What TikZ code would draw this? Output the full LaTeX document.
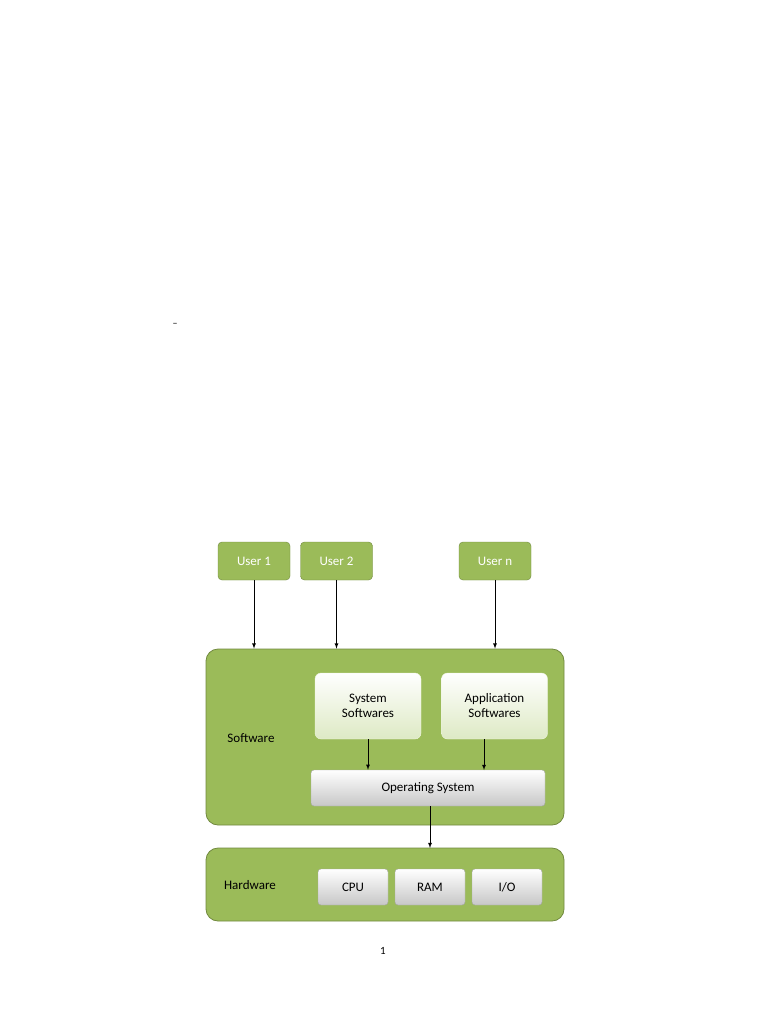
\documentclass[tikz,border=0pt]{standalone}
\usepackage{fontspec}
\setmainfont{Carlito}
\usetikzlibrary{positioning}
\definecolor{leaf}{HTML}{9BBB59}
\definecolor{leafdark}{HTML}{71893F}
\definecolor{leaflight}{HTML}{EEF5DF}
\begin{document}
\begin{tikzpicture}[x=1pt,y=-1pt]
 		\tikzstyle{user}=[rectangle, rounded corners=4pt, fill=leaf, draw=leafdark, text=white, minimum width=72pt, minimum height=38pt, font=\fontsize{13}{15}\selectfont]
 		\tikzstyle{layer}=[rectangle, rounded corners=12pt, fill=leaf, draw=leafdark, thick, minimum width=358pt]
 		\tikzstyle{soft}=[rectangle, rounded corners=6pt, top color=white, bottom color=leaflight!80!leaf, draw=leaflight, minimum width=106pt, minimum height=66pt, align=center, font=\fontsize{13}{15}\selectfont]
 		\tikzstyle{part}=[rectangle, rounded corners=3pt, top color=white, bottom color=black!22, draw=black!35, minimum height=36pt, font=\fontsize{13}{15}\selectfont]
 		\tikzstyle{connect}=[-latex, thick]
 		\useasboundingbox (0,0) rectangle (768,1024);
 		\fill[white] (0,0) rectangle (768,1024);
 		\node[user] (u1) at (254,561) {User 1};
 		\node[user] (u2) at (336.5,561) {User 2};
 		\node[user] (un) at (495,561) {User n};
 		\node[layer, minimum height=176pt] (sw) at (385,737) {};
 		\node[font=\fontsize{13}{15}\selectfont] (swl) at (251,738) {Software};
 		\node[soft] (sys) at (368,706) {System\\Softwares};
 		\node[soft] (app) at (494.5,706) {Application\\Softwares};
 		\node[part, minimum width=234pt] (os) at (428,788) {Operating System};
 		\node[layer, minimum height=73pt] (hw) at (385,884.5) {};
 		\node[font=\fontsize{13}{15}\selectfont] (hwl) at (250,885) {Hardware};
 		\node[part, minimum width=70pt] (cpu) at (353,887) {CPU};
 		\node[part, minimum width=70pt] (ram) at (430,887) {RAM};
 		\node[part, minimum width=70pt] (io) at (507,887) {I/O};
 		\node (dash) at (175,325) {–};
 		\node[font=\fontsize{11}{13}\selectfont] (page) at (383,951) {1};
 		\draw[connect] (u1.south) -- (u1.south |- sw.north);
 		\draw[connect] (u2.south) -- (u2.south |- sw.north);
 		\draw[connect] (un.south) -- (un.south |- sw.north);
 		\draw[connect] (sys.south) -- (sys.south |- os.north);
 		\draw[connect] (app.south -| 484,0) -- (484,770);
 		\draw[connect] (430,806) -- (430,848);
\end{tikzpicture}
\end{document}
